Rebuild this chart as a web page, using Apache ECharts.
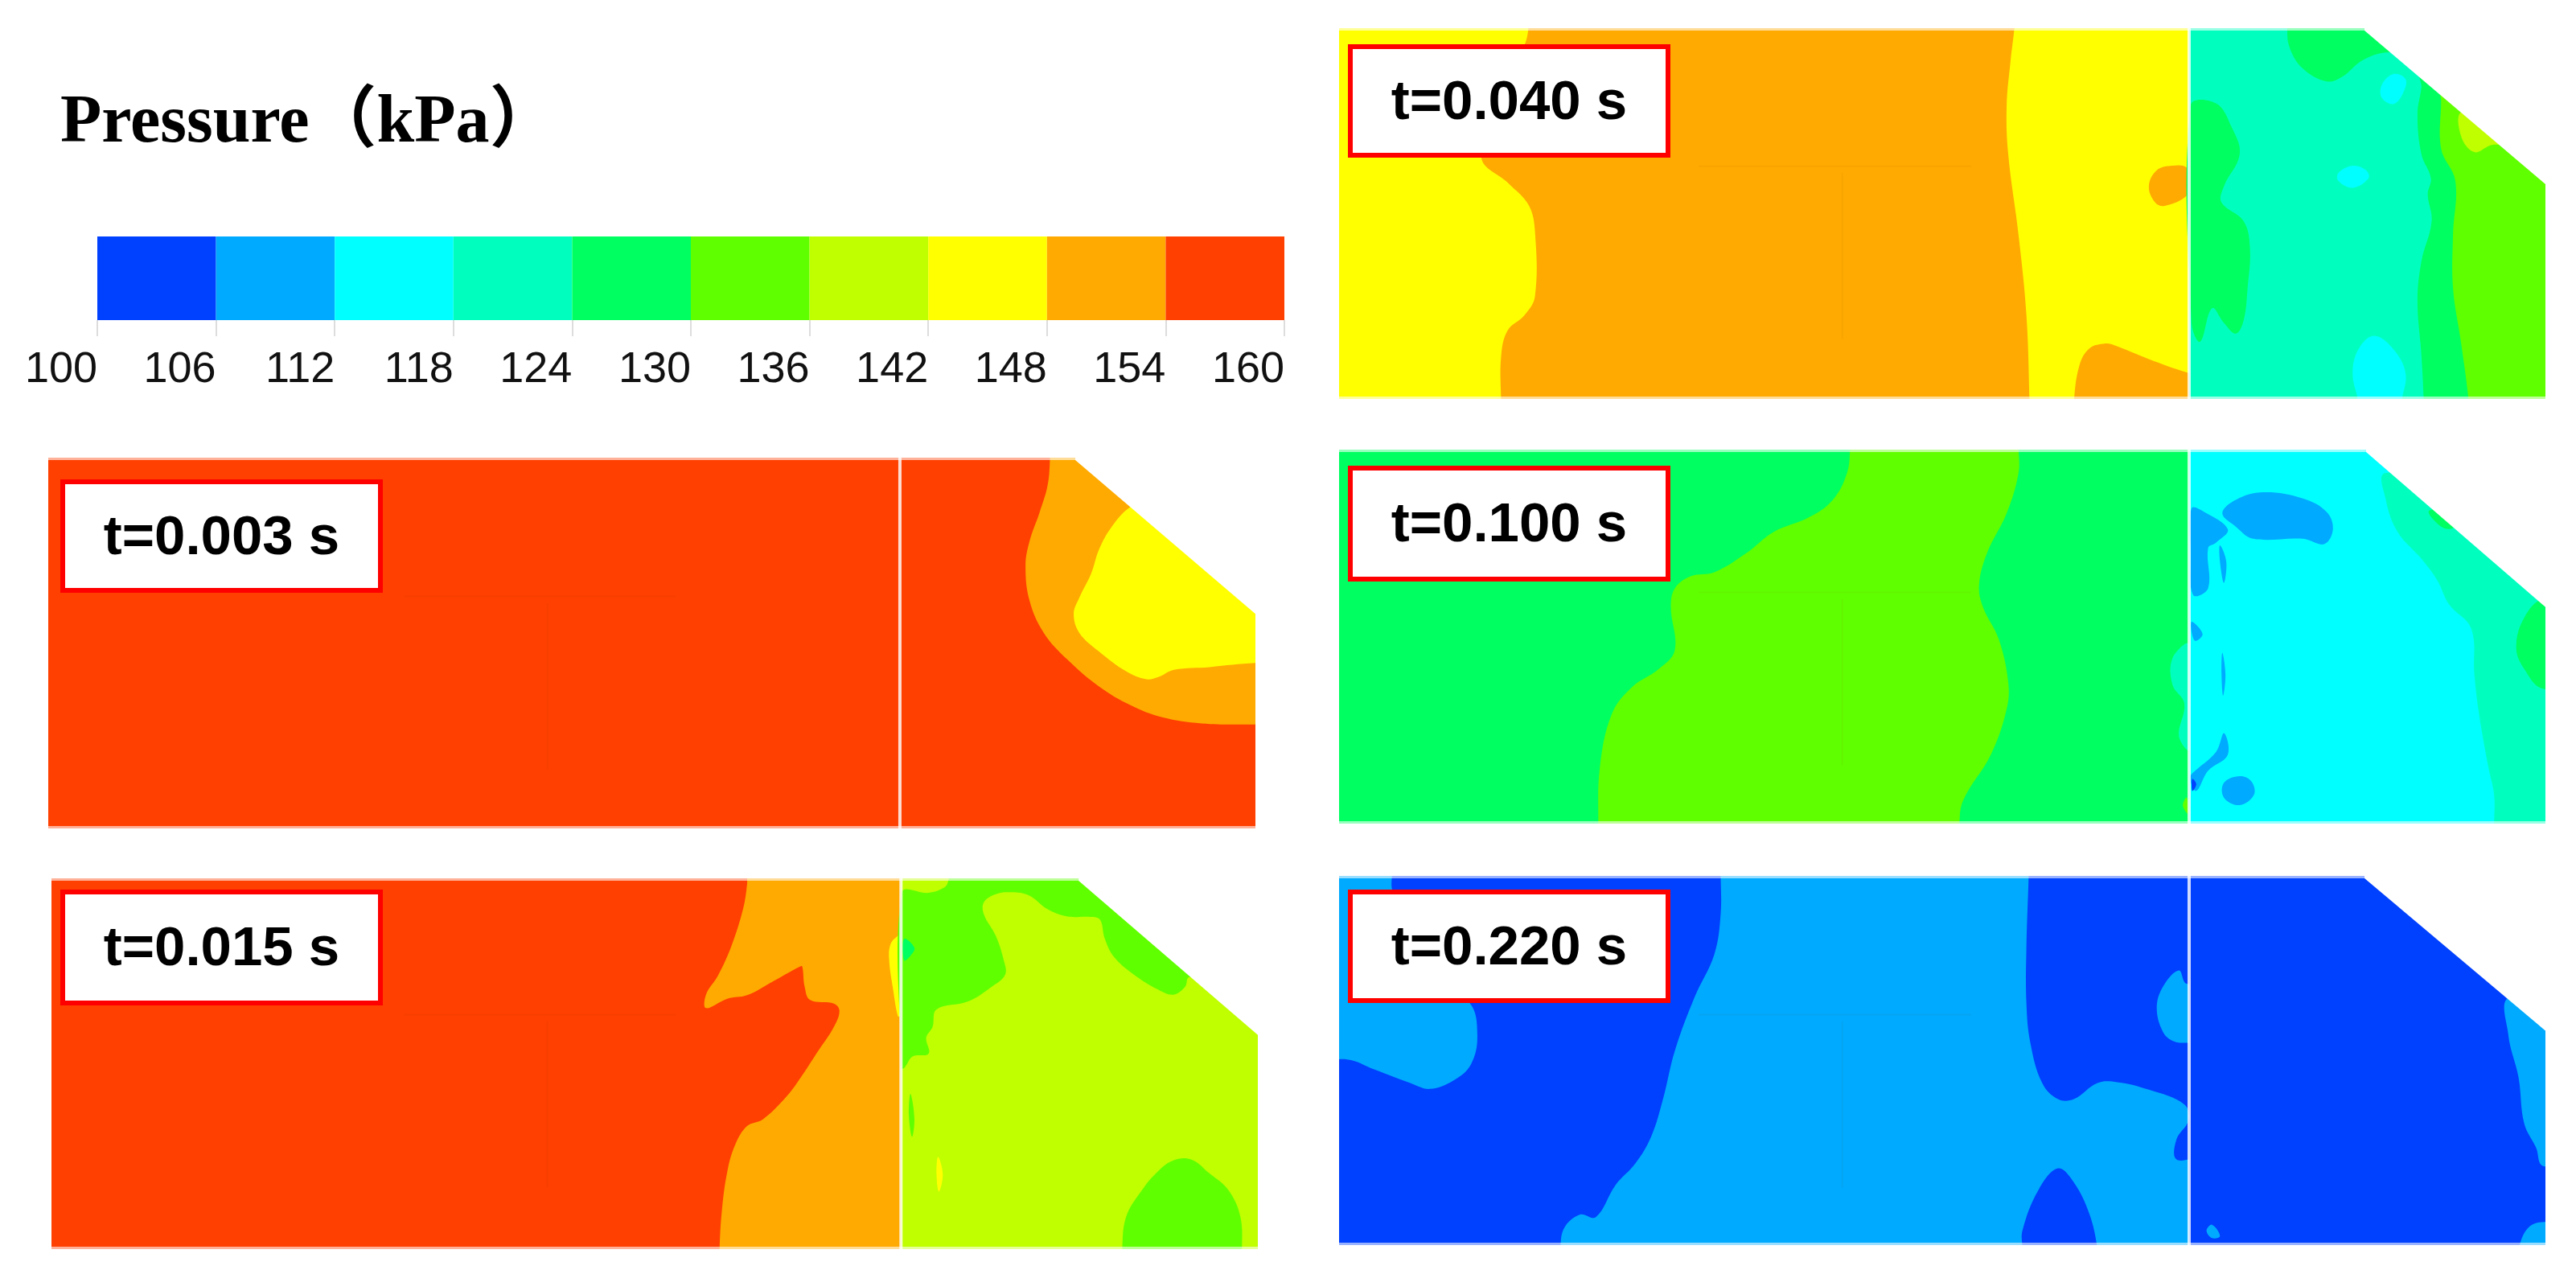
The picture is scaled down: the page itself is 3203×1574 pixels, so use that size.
<!DOCTYPE html>
<html>
<head>
<meta charset="utf-8">
<style>html,body{margin:0;padding:0;background:#fff}#c{width:3203px;height:1574px}</style>
<script src="https://cdn.jsdelivr.net/npm/echarts@6/dist/echarts.min.js"></script>
</head>
<body>
<div id="c"></div>
<script>
// ---- colour scale ----
const tickValues = [100,106,112,118,124,130,136,142,148,154,160];
const bandColors = ['#0040ff','#00aaff','#00ffff','#00ffbf','#00ff60','#60ff00','#bfff00','#ffff00','#ffaa00','#ff4000'];

// ---- contour outlines, in each panel's own domain units ----
// t = 0.003 s
const a148 = [[1288,-40],[1288,30],[1285,130],[1275,230],[1262,340],[1257,430],[1262,560],[1280,680],[1310,780],[1350,880],[1390,950],[1430,995],[1480,1018],[1548,1022],[1650,1025],[1650,-40]];
const a142 = [[1420,170],[1388,215],[1365,290],[1350,370],[1340,460],[1325,550],[1318,610],[1325,680],[1350,750],[1385,825],[1410,853],[1425,845],[1445,818],[1490,808],[1548,793],[1650,790],[1650,170]];
// t = 0.015 s
const b148 = [[905,-40],[905,25],[905,60],[900,150],[885,290],[868,400],[853,470],[853,520],[880,485],[905,472],[935,425],[972,365],[975,365],[978,440],[985,490],[1015,503],[1022,530],[1015,590],[995,680],[975,770],[955,850],[925,935],[905,960],[890,1030],[880,1130],[873,1280],[870,1430],[870,1500],[1200,1500],[1200,-40]];
const b136Right = [[1100,-60],[1700,-60],[1700,1500],[1100,1500]];
const b130Top = [[1160,-40],[1160,20],[1160,45],[1155,70],[1135,90],[1101,90],[1101,745],[1105,740],[1115,700],[1135,690],[1132,630],[1140,590],[1145,525],[1185,495],[1215,440],[1232,395],[1230,340],[1220,250],[1205,170],[1205,125],[1220,95],[1240,88],[1262,100],[1285,150],[1310,178],[1340,180],[1352,190],[1358,260],[1370,330],[1395,395],[1425,450],[1445,470],[1460,440],[1465,405],[1520,405],[1520,-40]];
const b124Sliver = [[1104,262],[1117,295],[1112,325],[1104,342]];
const b142Sliver = [[1097,248],[1087,280],[1085,340],[1090,450],[1096,550],[1099,550],[1099,248]];
const b130Sliver = [[1112,840],[1117,930],[1114,1000],[1110,920]];
const b142Spot = [[1147,1075],[1153,1140],[1148,1205],[1145,1140]];
const b130Bottom = [[1380,1500],[1380,1430],[1385,1300],[1405,1200],[1425,1130],[1445,1088],[1468,1085],[1490,1135],[1515,1200],[1530,1300],[1532,1430],[1532,1500]];
// t = 0.040 s
const c148Main = [[255,-40],[255,20],[250,90],[215,300],[195,512],[230,610],[255,690],[263,790],[263,1030],[250,1100],[228,1160],[220,1260],[220,1425],[220,1490],[889,1490],[889,1425],[885,1100],[875,800],[862,500],[860,320],[865,150],[870,20],[870,-40]];
const c148Blob = [[1070,543],[1050,560],[1040,620],[1048,680],[1060,693],[1088,655],[1095,600],[1088,550]];
const c148Bottom = [[985,1207],[965,1225],[952,1290],[945,1425],[945,1490],[1110,1490],[1110,1330],[1088,1315],[1040,1265],[995,1212]];
const c118Right = [[1091,-60],[1700,-60],[1700,1500],[1091,1500]];
const c124Top = [[1215,-40],[1215,20],[1218,100],[1235,180],[1265,228],[1285,210],[1310,150],[1340,120],[1420,120],[1420,-40]];
const c124Left = [[1093,318],[1125,310],[1145,400],[1155,500],[1135,620],[1132,680],[1160,750],[1168,850],[1165,1000],[1160,1120],[1150,1170],[1135,1130],[1120,1075],[1105,1200],[1094,1130]];
const c124Band = [[1385,200],[1385,250],[1380,350],[1385,500],[1397,590],[1393,650],[1398,750],[1385,900],[1380,1050],[1385,1250],[1388,1425],[1388,1490],[1650,1490],[1650,200]];
const c130Right = [[1410,240],[1410,300],[1410,480],[1428,600],[1425,800],[1425,1000],[1435,1200],[1445,1425],[1445,1490],[1650,1490],[1650,240]];
const c136Blob = [[1437,340],[1435,430],[1452,492],[1475,465],[1520,465],[1520,340]];
const c112A = [[1350,200],[1335,240],[1335,290],[1350,312],[1362,270],[1365,220]];
const c112B = [[1298,543],[1280,570],[1280,600],[1298,625],[1318,590],[1315,560]];
const c112C = [[1325,1178],[1305,1230],[1298,1320],[1305,1425],[1305,1490],[1360,1490],[1360,1425],[1365,1320],[1350,1230]];
// t = 0.100 s
const d130Band = [[662,-40],[662,5],[658,100],[640,200],[610,265],[565,320],[530,400],[490,470],[460,485],[440,530],[435,600],[440,760],[420,830],[385,900],[360,1000],[345,1200],[343,1415],[343,1490],[800,1490],[800,1415],[805,1320],[840,1150],[860,980],[862,880],[850,720],[830,600],[825,520],[835,400],[860,250],[875,100],[875,5],[875,-40]];
const d118Sliver = [[1091,740],[1070,790],[1070,890],[1085,960],[1078,1080],[1091,1130]];
const d130Spot = [[1088,1310],[1083,1340],[1090,1370]];
const d112Right = [[1091,-60],[1700,-60],[1700,1500],[1091,1500]];
const d118Right = [[1340,100],[1340,200],[1355,320],[1385,420],[1405,500],[1420,590],[1448,680],[1452,850],[1458,1000],[1470,1200],[1477,1300],[1477,1415],[1477,1490],[1650,1490],[1650,100]];
const d124Edge = [[1395,240],[1410,300],[1425,305],[1445,240]];
const d124Blob = [[1540,570],[1515,640],[1505,750],[1515,830],[1540,905],[1650,905],[1650,570]];
const d106Big = [[1185,172],[1150,200],[1133,250],[1150,300],[1172,345],[1235,345],[1262,365],[1273,310],[1265,245],[1235,195]];
const d106Left = [[1094,232],[1110,245],[1140,310],[1125,360],[1115,380],[1115,530],[1096,555],[1093,400]];
const d106SliverA = [[1130,370],[1138,430],[1135,510],[1130,430]];
const d106SpotA = [[1094,655],[1108,700],[1098,725]];
const d106SliverB = [[1133,770],[1137,850],[1134,930],[1132,850]];
const d106Lower = [[1135,1070],[1140,1150],[1115,1210],[1100,1285],[1092,1240],[1095,1220],[1125,1140]];
const d106Spot = [[1155,1230],[1135,1255],[1135,1310],[1155,1338],[1173,1300],[1170,1250]];
const d100Spot = [[1095,1240],[1100,1260],[1095,1285]];
// t = 0.220 s
const e106Left = [[-60,-40],[82,-40],[82,20],[82,78],[100,300],[180,500],[190,620],[182,730],[160,790],[130,822],[105,800],[60,750],[25,712],[-60,712]];
const e106Main = [[498,-40],[498,15],[498,170],[490,320],[465,480],[440,680],[425,860],[410,1000],[390,1100],[365,1180],[340,1300],[320,1290],[300,1340],[295,1420],[295,1490],[880,1490],[880,1420],[880,1350],[900,1200],[925,1118],[945,1170],[965,1290],[975,1420],[975,1490],[1110,1490],[1110,1090],[1075,1085],[1075,1010],[1090,940],[1085,880],[1040,825],[1000,797],[975,800],[945,860],[925,860],[905,800],[890,650],[885,500],[885,300],[888,15],[888,-40]];
const e106Blob = [[1078,380],[1058,440],[1050,520],[1058,610],[1072,645],[1090,650],[1140,650],[1140,440],[1088,430]];
const e100Right = [[1091,-60],[1700,-60],[1700,1500],[1091,1500]];
const e106Spot = [[1120,1328],[1113,1350],[1120,1378],[1130,1370]];
const e106Edge = [[1497,480],[1495,620],[1508,780],[1515,950],[1530,1040],[1540,1110],[1650,1110],[1650,480]];
const e106Corner = [[1540,1318],[1520,1340],[1508,1420],[1508,1490],[1650,1490],[1650,1318]];

// ---- panels ----
const panelLabels = ['t=0.003 s','t=0.015 s','t=0.040 s','t=0.100 s','t=0.220 s'];
const panelBaseBand = [9,9,7,4,0];
const panelLayers = [
  [[8,a148],[7,a142]],
  [[8,b148],[7,b142Sliver],[6,b136Right,1],[5,b130Top],[4,b124Sliver],[5,b130Sliver],[7,b142Spot],[5,b130Bottom]],
  [[8,c148Main],[8,c148Blob],[8,c148Bottom],[3,c118Right,1],[4,c124Top],[4,c124Left],[4,c124Band],[5,c130Right],[6,c136Blob],[2,c112A],[2,c112B],[2,c112C]],
  [[5,d130Band],[3,d118Sliver],[5,d130Spot],[2,d112Right,1],[3,d118Right],[4,d124Edge],[4,d124Blob],[1,d106Big],[1,d106Left],[1,d106SliverA],[1,d106SpotA],[1,d106SliverB],[1,d106Lower],[1,d106Spot],[0,d100Spot]],
  [[1,e106Left],[1,e106Main],[1,e106Blob],[0,e100Right,1],[1,e106Spot],[1,e106Edge],[1,e106Corner]]
];
// domain extents [xMin,xMax,yMin,yMax]
const panelDomain = [[20,1548,37,1400],[24,1552,45,1410],[15,1542,38,1405],[15,1542,22,1398],[15,1542,37,1395]];
const panelDivider = [1098,1100,1091,1091,1091];
const panelChamfer = [[1320,1548,610],[1325,1552,620],[1313,1542,612],[1315,1542,600],[1313,1542,605]];
// page layout
const panelBox = [[60,572,1501,455],[64,1095,1500,455],[1665,38,1500,455],[1665,562,1500,459],[1665,1092,1500,453]];
const labelBox = [[78,599,395,135],[78,1109,395,138],[1679,58,395,135],[1679,582,395,138],[1679,1109,395,135]];

const grids=[], xAxes=[], yAxes=[], series=[], graphics=[];

panelDomain.forEach((d,i)=>{
  const [x0,x1,y0,y1]=d, b=panelBox[i], pad=9;
  grids.push({left:b[0],top:b[1]-3,width:b[2],height:b[3]+6,show:false,containLabel:false});
  xAxes.push({gridIndex:i,type:'value',min:x0,max:x1,show:false});
  yAxes.push({gridIndex:i,type:'value',min:y0-pad,max:y1+pad,inverse:true,show:false});
  const far=200, c=panelChamfer[i];
  const items=[];
  items.push({fill:bandColors[panelBaseBand[i]],pts:[[x0-far,y0-far],[x1+far,y0-far],[x1+far,y1+far],[x0-far,y1+far]],smooth:0});
  panelLayers[i].forEach(l=>items.push({fill:bandColors[l[0]],pts:l[1],smooth:l[2]?0:0.38}));
  // faint mesh seams
  items.push({line:'rgba(120,60,0,0.05)',w:2,pts:[[470,545],[815,545]]});
  items.push({line:'rgba(120,60,0,0.05)',w:2,pts:[[652,570],[652,1190]]});
  // interface line
  items.push({line:'rgba(255,255,255,0.82)',w:4,pts:[[panelDivider[i],y0-pad],[panelDivider[i],y1+pad]]});
  // chamfered corner
  items.push({fill:'#ffffff',pts:[[c[0],y0-far],[c[0],y0],[c[1],c[2]],[x1+far,c[2]],[x1+far,y0-far]],smooth:0});
  // soft top / bottom rows
  items.push({fill:'rgba(255,255,255,0.6)',pts:[[x0-far,y0-pad],[x1+far,y0-pad],[x1+far,y0],[x0-far,y0]],smooth:0});
  items.push({fill:'rgba(255,255,255,0.6)',pts:[[x0-far,y1],[x1+far,y1],[x1+far,y1+pad],[x0-far,y1+pad]],smooth:0});
  series.push({
    type:'custom',xAxisIndex:i,yAxisIndex:i,coordinateSystem:'cartesian2d',clip:true,silent:true,animation:false,
    data:items.map((_,k)=>[k]),
    encode:{x:0},
    renderItem:(p,api)=>{
      const it=items[api.value(0)];
      const pts=it.pts.map(q=>api.coord(q));
      if(it.line){
        return {type:'line',shape:{x1:pts[0][0],y1:pts[0][1],x2:pts[1][0],y2:pts[1][1]},style:{stroke:it.line,lineWidth:it.w}};
      }
      return {type:'polygon',shape:{points:pts,smooth:it.smooth},style:{fill:it.fill}};
    }
  });
  const lb=labelBox[i];
  graphics.push({type:'rect',z:100,shape:{x:lb[0],y:lb[1],width:lb[2],height:lb[3]},style:{fill:'#fff',stroke:'#ff0000',lineWidth:6}});
  graphics.push({type:'text',z:101,x:lb[0]+lb[2]/2,y:lb[1]+lb[3]/2+3,style:{text:panelLabels[i],fill:'#000',font:'bold 69px "Liberation Sans"',textAlign:'center',textVerticalAlign:'middle'}});
});

// colour bar
const cb=panelDomain.length;
grids.push({left:121,top:294,width:1476,height:104,show:false});
xAxes.push({gridIndex:cb,type:'value',min:tickValues[0],max:tickValues[tickValues.length-1],interval:6,
  axisLine:{show:false},splitLine:{show:false},
  axisTick:{show:true,length:20,lineStyle:{color:'#dddddd',width:2}},
  axisLabel:{show:true,color:'#111',fontSize:54,fontFamily:'"Liberation Sans"',align:'right',margin:35,showMinLabel:true,showMaxLabel:true,hideOverlap:false}});
yAxes.push({gridIndex:cb,type:'value',min:0,max:1,show:false});
series.push({
  type:'custom',xAxisIndex:cb,yAxisIndex:cb,coordinateSystem:'cartesian2d',silent:true,animation:false,
  data:bandColors.map((_,k)=>[tickValues[k],tickValues[k+1],k]),
  encode:{x:[0,1]},
  renderItem:(p,api)=>{
    const a=api.coord([api.value(0),1]), b=api.coord([api.value(1),0]);
    return {type:'rect',shape:{x:a[0],y:a[1],width:b[0]-a[0],height:b[1]-a[1]},style:{fill:bandColors[api.value(2)]}};
  }
});

const chart=echarts.init(document.getElementById('c'),null,{renderer:'canvas'});
chart.setOption({
  animation:false,backgroundColor:'#fff',
  title:{text:'Pressure（kPa）',left:75,top:112,padding:0,textStyle:{color:'#000',fontSize:84,fontWeight:'bold',fontFamily:'"Liberation Serif","Noto Sans CJK SC"'}},
  grid:grids,xAxis:xAxes,yAxis:yAxes,series:series,graphic:graphics
});
</script>
</body>
</html>
